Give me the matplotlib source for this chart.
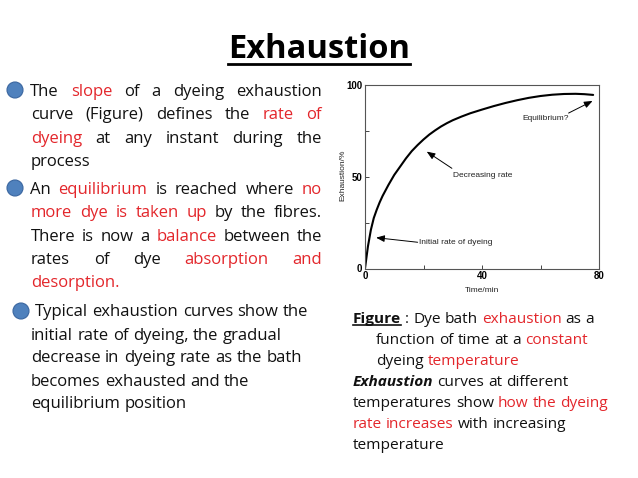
import matplotlib.pyplot as plt
from matplotlib.lines import Line2D
from matplotlib.patches import Ellipse

W, H = 638, 478
RED = '#E3262B'
BODY = 'Open Sans'

# curve
time_min = [0, 1, 2, 3, 4, 5, 6, 8, 10, 12, 14, 16, 18, 20, 22, 24, 26, 28, 30,
            33, 36, 40, 44, 48, 52, 56, 60, 64, 68, 72, 75, 78]
exhaustion = [0, 12, 21, 27.5, 32, 36, 39.5, 45.5, 51, 55.5, 60, 64, 67.3, 70.3,
              73, 75.3, 77.4, 79.2, 80.8, 82.8, 84.6, 86.6, 88.5, 90.2, 91.7,
              93, 94, 94.7, 95.1, 95.2, 95.0, 94.6]
x_ticks = [0, 40, 80]
y_ticks = [0, 50, 100]

title = 'Exhaustion'

# (text, kind): k = black, r = red, bu = bold underlined, bi = bold italic
bullet_1 = [
    [('The', 'k'), ('slope', 'r'), ('of a dyeing exhaustion', 'k')],
    [('curve (Figure) defines the', 'k'), ('rate of', 'r')],
    [('dyeing', 'r'), ('at any instant during the', 'k')],
    [('process', 'k')],
]
bullet_2 = [
    [('An', 'k'), ('equilibrium', 'r'), ('is reached where', 'k'), ('no', 'r')],
    [('more dye is taken up', 'r'), ('by the fibres.', 'k')],
    [('There is now a', 'k'), ('balance', 'r'), ('between the', 'k')],
    [('rates of dye', 'k'), ('absorption and', 'r')],
    [('desorption.', 'r')],
]
bullet_3 = [
    [('Typical exhaustion curves show the', 'k')],
    [('initial rate of dyeing, the gradual', 'k')],
    [('decrease in dyeing rate as the bath', 'k')],
    [('becomes exhausted and the', 'k')],
    [('equilibrium position', 'k')],
]
caption = [
    [('Figure', 'bu'), (': Dye bath', 'k'), ('exhaustion', 'r'), ('as a', 'k')],
    [('function of time at a', 'k'), ('constant', 'r')],
    [('dyeing', 'k'), ('temperature', 'r')],
    [('Exhaustion', 'bi'), ('curves at different', 'k')],
    [('temperatures show', 'k'), ('how the dyeing', 'r')],
    [('rate increases', 'r'), ('with increasing', 'k')],
    [('temperature', 'k')],
]

fig = plt.figure(figsize=(W / 100, H / 100), dpi=100)
fig.patch.set_facecolor('white')
renderer = fig.canvas.get_renderer()


def fx(x):
    return x / W


def fy(y):
    return 1 - y / H


def style(kind):
    d = dict(family=BODY, color='#111111')
    if kind == 'r':
        d['color'] = RED
    if kind in ('bu', 'bi'):
        d['weight'] = 'bold'
    if kind == 'bi':
        d['style'] = 'italic'
    return d


def width(s, size, kind='k'):
    t = fig.text(0, 0, s, fontsize=size, **style(kind))
    w = t.get_window_extent(renderer).width
    t.remove()
    return w


def draw_line(x0, y, segs, size, right=None):
    words = []
    for text, kind in segs:
        for w in text.split():
            words.append((w, kind))
    widths = [width(w, size, k) for w, k in words]
    if right is not None and len(words) > 1:
        gap = (right - x0 - sum(widths)) / (len(words) - 1)
    else:
        gap = width('a a', size) - width('aa', size)
    x = x0
    for (w, kind), wd in zip(words, widths):
        fig.text(fx(x), fy(y), w, fontsize=size, va='baseline', **style(kind))
        if kind == 'bu':
            fig.add_artist(Line2D([fx(x), fx(x + wd)], [fy(y + 2.5)] * 2,
                                  color='#111111', lw=1.2))
        x += wd + gap


def bullet(x, y):
    fig.add_artist(Ellipse((fx(x), fy(y)), 16 / W, 16 / H,
                           transform=fig.transFigure,
                           facecolor='#4F81BD', edgecolor='#3A66A0', lw=0.8))


# title
t = fig.text(fx(319), fy(58), title, ha='center', va='baseline',
             fontsize=23.5, weight='bold', family=BODY, color='black')
bb = t.get_window_extent(renderer)
fig.add_artist(Line2D([bb.x0 / W, bb.x1 / W], [fy(64)] * 2, color='black', lw=2))

# left column
size = 12
step = 23.3
bullet(15, 90)
for i, line in enumerate(bullet_1):
    x0 = 30 if i == 0 else 31
    right = 322 if i < len(bullet_1) - 1 else None
    draw_line(x0, 96 + i * step, line, size, right)

bullet(15, 188)
for i, line in enumerate(bullet_2):
    right = 322 if i < len(bullet_2) - 1 else None
    draw_line(30 if i == 0 else 31, 194 + i * step, line, size, right)

bullet(21, 311)
for i, line in enumerate(bullet_3):
    draw_line(35 if i == 0 else 31, 316.5 + i * 23, line, size)

# caption under figure
for i, line in enumerate(caption):
    x0 = 376 if i in (1, 2) else 353
    draw_line(x0, 322.7 + i * 21.1, line, 11.1)

# chart
ax = fig.add_axes([365 / W, 1 - 268.5 / H, 234 / W, 183.5 / H])
ax.plot(time_min, exhaustion, color='black', lw=1.5, solid_capstyle='round')
ax.set_xlim(0, 80)
ax.set_ylim(0, 100)
ax.set_xticks(x_ticks)
ax.set_yticks(y_ticks)
ax.set_xticks([20, 60], minor=True)
ax.set_yticks([25, 75], minor=True)
ax.tick_params(which='both', direction='in', length=3, width=0.7, color='#444444')
ax.tick_params(axis='both', pad=2, labelsize=7)
for lab in ax.get_xticklabels() + ax.get_yticklabels():
    lab.set_fontweight('bold')
    lab.set_family('Liberation Sans')
for sp in ax.spines.values():
    sp.set_linewidth(0.8)
    sp.set_color('#555555')

small = dict(fontsize=6, family='Liberation Sans', color='#222222')
ax.text(-0.095, 0.506, 'Exhaustion/%', rotation=90, ha='center', va='center',
        transform=ax.transAxes, **small)
ax.text(0.5, -0.121, 'Time/min', ha='center', va='center',
        transform=ax.transAxes, **small)

arrow = dict(arrowstyle='-|>,head_length=0.5,head_width=0.2', color='black', lw=0.7,
             shrinkA=0, shrinkB=0)
ax.text(61.7, 81.5, 'Equilibrium?', ha='center', va='center', **small)
ax.annotate('', xy=(77.8, 91.3), xytext=(69.6, 84.7), arrowprops=arrow)
ax.text(40.3, 50.6, 'Decreasing rate', ha='center', va='center', **small)
ax.annotate('', xy=(21.1, 63.7), xytext=(29.7, 54.6), arrowprops=arrow)
ax.text(30.9, 14.3, 'Initial rate of dyeing', ha='center', va='center', **small)
ax.annotate('', xy=(3.8, 16.8), xytext=(18.0, 14.3), arrowprops=arrow)

fig.savefig('out.png', dpi=100, facecolor='white')
